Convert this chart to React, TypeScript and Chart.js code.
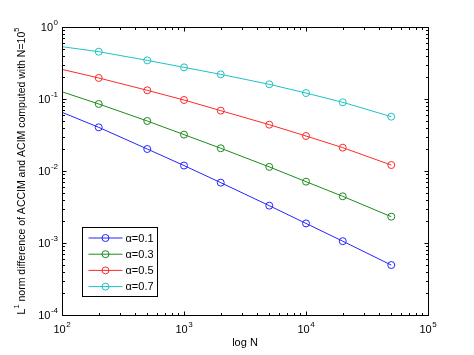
import React, { useEffect, useRef } from 'react';
import { Chart, registerables } from 'chart.js';

Chart.register(...registerables);

// ---- data ----
const nValues = [100, 200, 500, 1000, 2000, 5000, 10000, 20000, 50000];
const alpha01 = [0.0653, 0.0404, 0.0202, 0.0119, 0.00689, 0.0033, 0.00187, 0.00106, 0.000494];
const alpha03 = [0.126, 0.0853, 0.0495, 0.032, 0.0207, 0.0114, 0.00711, 0.00445, 0.00232];
const alpha05 = [0.258, 0.196, 0.132, 0.0969, 0.0689, 0.044, 0.0306, 0.0211, 0.0121];
const alpha07 = [0.533, 0.454, 0.344, 0.275, 0.22, 0.16, 0.121, 0.09, 0.0568];
const seriesLabels = ['α=0.1', 'α=0.3', 'α=0.5', 'α=0.7'];
const seriesValues = [alpha01, alpha03, alpha05, alpha07];
const seriesColors = ['#2424ff', '#1c8a1c', '#ff2a2a', '#1fc2c2'];
const xTickExponents = ['2', '3', '4', '5'];
const yTickExponents = ['0', '-1', '-2', '-3', '-4'];
const xTitle = 'log N';
const yTitleParts = [
  { t: 'L', sup: false },
  { t: '1', sup: true },
  { t: ' norm difference of ACCIM and ACIM computed with N=10', sup: false },
  { t: '5', sup: true },
];

const FONT = '"Liberation Sans", Arial, Helvetica, sans-serif';
const BASE = 11;
const SUP = 8;
const TITLE = 10.5;
const TITLE_SUP = 7.5;

function drawPow(ctx: CanvasRenderingContext2D, exp: string, x: number, y: number, align: 'right' | 'center') {
  ctx.font = `${BASE}px ${FONT}`;
  const wb = ctx.measureText('10').width;
  ctx.font = `${SUP}px ${FONT}`;
  const we = ctx.measureText(exp).width;
  const total = wb + we + 0.5;
  const left = align === 'right' ? x - total : x - total / 2;
  ctx.textAlign = 'left';
  ctx.textBaseline = 'middle';
  ctx.font = `${BASE}px ${FONT}`;
  ctx.fillText('10', left, y + 1);
  ctx.font = `${SUP}px ${FONT}`;
  ctx.fillText(exp, left + wb + 0.5, y - 4);
}

const matlabAxes = {
  id: 'matlabAxes',
  afterDraw(chart: any) {
    const { ctx, chartArea: a, scales } = chart;
    const xs = scales.x;
    const ys = scales.y;
    ctx.save();
    ctx.strokeStyle = '#000';
    ctx.fillStyle = '#000';
    ctx.lineWidth = 1;
    const L = Math.round(a.left) + 0.5;
    const R = Math.round(a.right) + 0.5;
    const T = Math.round(a.top) + 0.5;
    const B = Math.round(a.bottom) + 0.5;
    ctx.strokeRect(L, T, R - L, B - T);

    ctx.beginPath();
    const xMinE = Math.round(Math.log10(xs.min));
    const xMaxE = Math.round(Math.log10(xs.max));
    for (let e = xMinE; e <= xMaxE; e++) {
      for (let d = 1; d <= 9; d++) {
        const v = d * Math.pow(10, e);
        if (v > xs.max * 1.0001) break;
        const px = Math.round(xs.getPixelForValue(v)) + 0.5;
        const len = d === 1 ? 4 : 2.5;
        ctx.moveTo(px, B);
        ctx.lineTo(px, B - len);
        ctx.moveTo(px, T);
        ctx.lineTo(px, T + len);
      }
    }
    const yMinE = Math.round(Math.log10(ys.min));
    const yMaxE = Math.round(Math.log10(ys.max));
    for (let e = yMinE; e <= yMaxE; e++) {
      for (let d = 1; d <= 9; d++) {
        const v = d * Math.pow(10, e);
        if (v > ys.max * 1.0001) break;
        const py = Math.round(ys.getPixelForValue(v)) + 0.5;
        const len = d === 1 ? 4 : 2.5;
        ctx.moveTo(L, py);
        ctx.lineTo(L + len, py);
        ctx.moveTo(R, py);
        ctx.lineTo(R - len, py);
      }
    }
    ctx.stroke();

    // tick labels
    xTickExponents.forEach((exp) => {
      const px = xs.getPixelForValue(Math.pow(10, Number(exp)));
      drawPow(ctx, exp, px, a.bottom + 14, 'center');
    });
    yTickExponents.forEach((exp) => {
      const py = ys.getPixelForValue(Math.pow(10, Number(exp)));
      drawPow(ctx, exp, a.left - 4, py, 'right');
    });

    // x title
    ctx.font = `${BASE}px ${FONT}`;
    ctx.textAlign = 'center';
    ctx.textBaseline = 'middle';
    ctx.fillText(xTitle, (a.left + a.right) / 2, a.bottom + 28);

    // y title (rotated)
    ctx.save();
    ctx.translate(21, (a.top + a.bottom) / 2);
    ctx.rotate(-Math.PI / 2);
    let total = 0;
    const widths = yTitleParts.map((p) => {
      ctx.font = `${p.sup ? TITLE_SUP : TITLE}px ${FONT}`;
      const w = ctx.measureText(p.t).width;
      total += w;
      return w;
    });
    let cx = -total / 2;
    ctx.textAlign = 'left';
    ctx.textBaseline = 'middle';
    yTitleParts.forEach((p, i) => {
      ctx.font = `${p.sup ? TITLE_SUP : TITLE}px ${FONT}`;
      ctx.fillText(p.t, cx, p.sup ? -4 : 1);
      cx += widths[i];
    });
    ctx.restore();

    // legend
    const bx = Math.round(a.left + 20) + 0.5;
    const bh = 69;
    const bw = 75;
    const by = Math.round(a.bottom - 19 - bh) + 0.5;
    ctx.fillStyle = '#fff';
    ctx.fillRect(bx, by, bw, bh);
    ctx.strokeStyle = '#000';
    ctx.strokeRect(bx, by, bw, bh);
    chart.data.datasets.forEach((ds: any, i: number) => {
      const ry = by + 10.5 + i * 16.2;
      ctx.strokeStyle = ds.borderColor;
      ctx.lineWidth = 1;
      ctx.beginPath();
      ctx.moveTo(bx + 6, ry);
      ctx.lineTo(bx + 40, ry);
      ctx.stroke();
      ctx.beginPath();
      ctx.arc(bx + 23, ry, 3.5, 0, Math.PI * 2);
      ctx.stroke();
      ctx.fillStyle = '#000';
      ctx.font = `11px ${FONT}`;
      ctx.textAlign = 'left';
      ctx.textBaseline = 'middle';
      ctx.fillText(ds.label, bx + 43, ry + 0.5);
    });
    ctx.restore();
  },
};

export default function App() {
  const ref = useRef<HTMLCanvasElement>(null);
  useEffect(() => {
    const canvas = ref.current;
    if (!canvas) return;
    const chart = new Chart(canvas, {
      type: 'line',
      data: {
        datasets: seriesValues.map((vals, si) => ({
          label: seriesLabels[si],
          data: nValues.map((x, i) => ({ x, y: vals[i] })),
          borderColor: seriesColors[si],
          backgroundColor: 'rgba(0,0,0,0)',
          pointBackgroundColor: 'rgba(0,0,0,0)',
          pointBorderColor: seriesColors[si],
          borderWidth: 1,
          pointBorderWidth: 1,
          pointRadius: nValues.map((_, i) => (i === 0 ? 0 : 3.5)),
          tension: 0,
          fill: false,
        })),
      },
      options: {
        responsive: false,
        animation: false,
        devicePixelRatio: 1,
        layout: { padding: { top: 27, right: 46, left: 0, bottom: 0 } },
        plugins: { legend: { display: false }, tooltip: { enabled: false } },
        scales: {
          x: {
            type: 'logarithmic',
            min: 100,
            max: 100000,
            ticks: { display: false },
            grid: { display: false },
            border: { display: false },
            afterFit: (s: any) => {
              s.height = 40;
            },
          },
          y: {
            type: 'logarithmic',
            min: 0.0001,
            max: 1,
            ticks: { display: false },
            grid: { display: false },
            border: { display: false },
            afterFit: (s: any) => {
              s.width = 62;
            },
          },
        },
      } as any,
      plugins: [matlabAxes],
    });
    return () => chart.destroy();
  }, []);
  return (
    <div style={{ position: 'absolute', left: 0, top: 0, width: 474, height: 355, background: '#fff' }}>
      <canvas ref={ref} width={474} height={355} style={{ width: 474, height: 355, display: 'block' }} />
    </div>
  );
}
